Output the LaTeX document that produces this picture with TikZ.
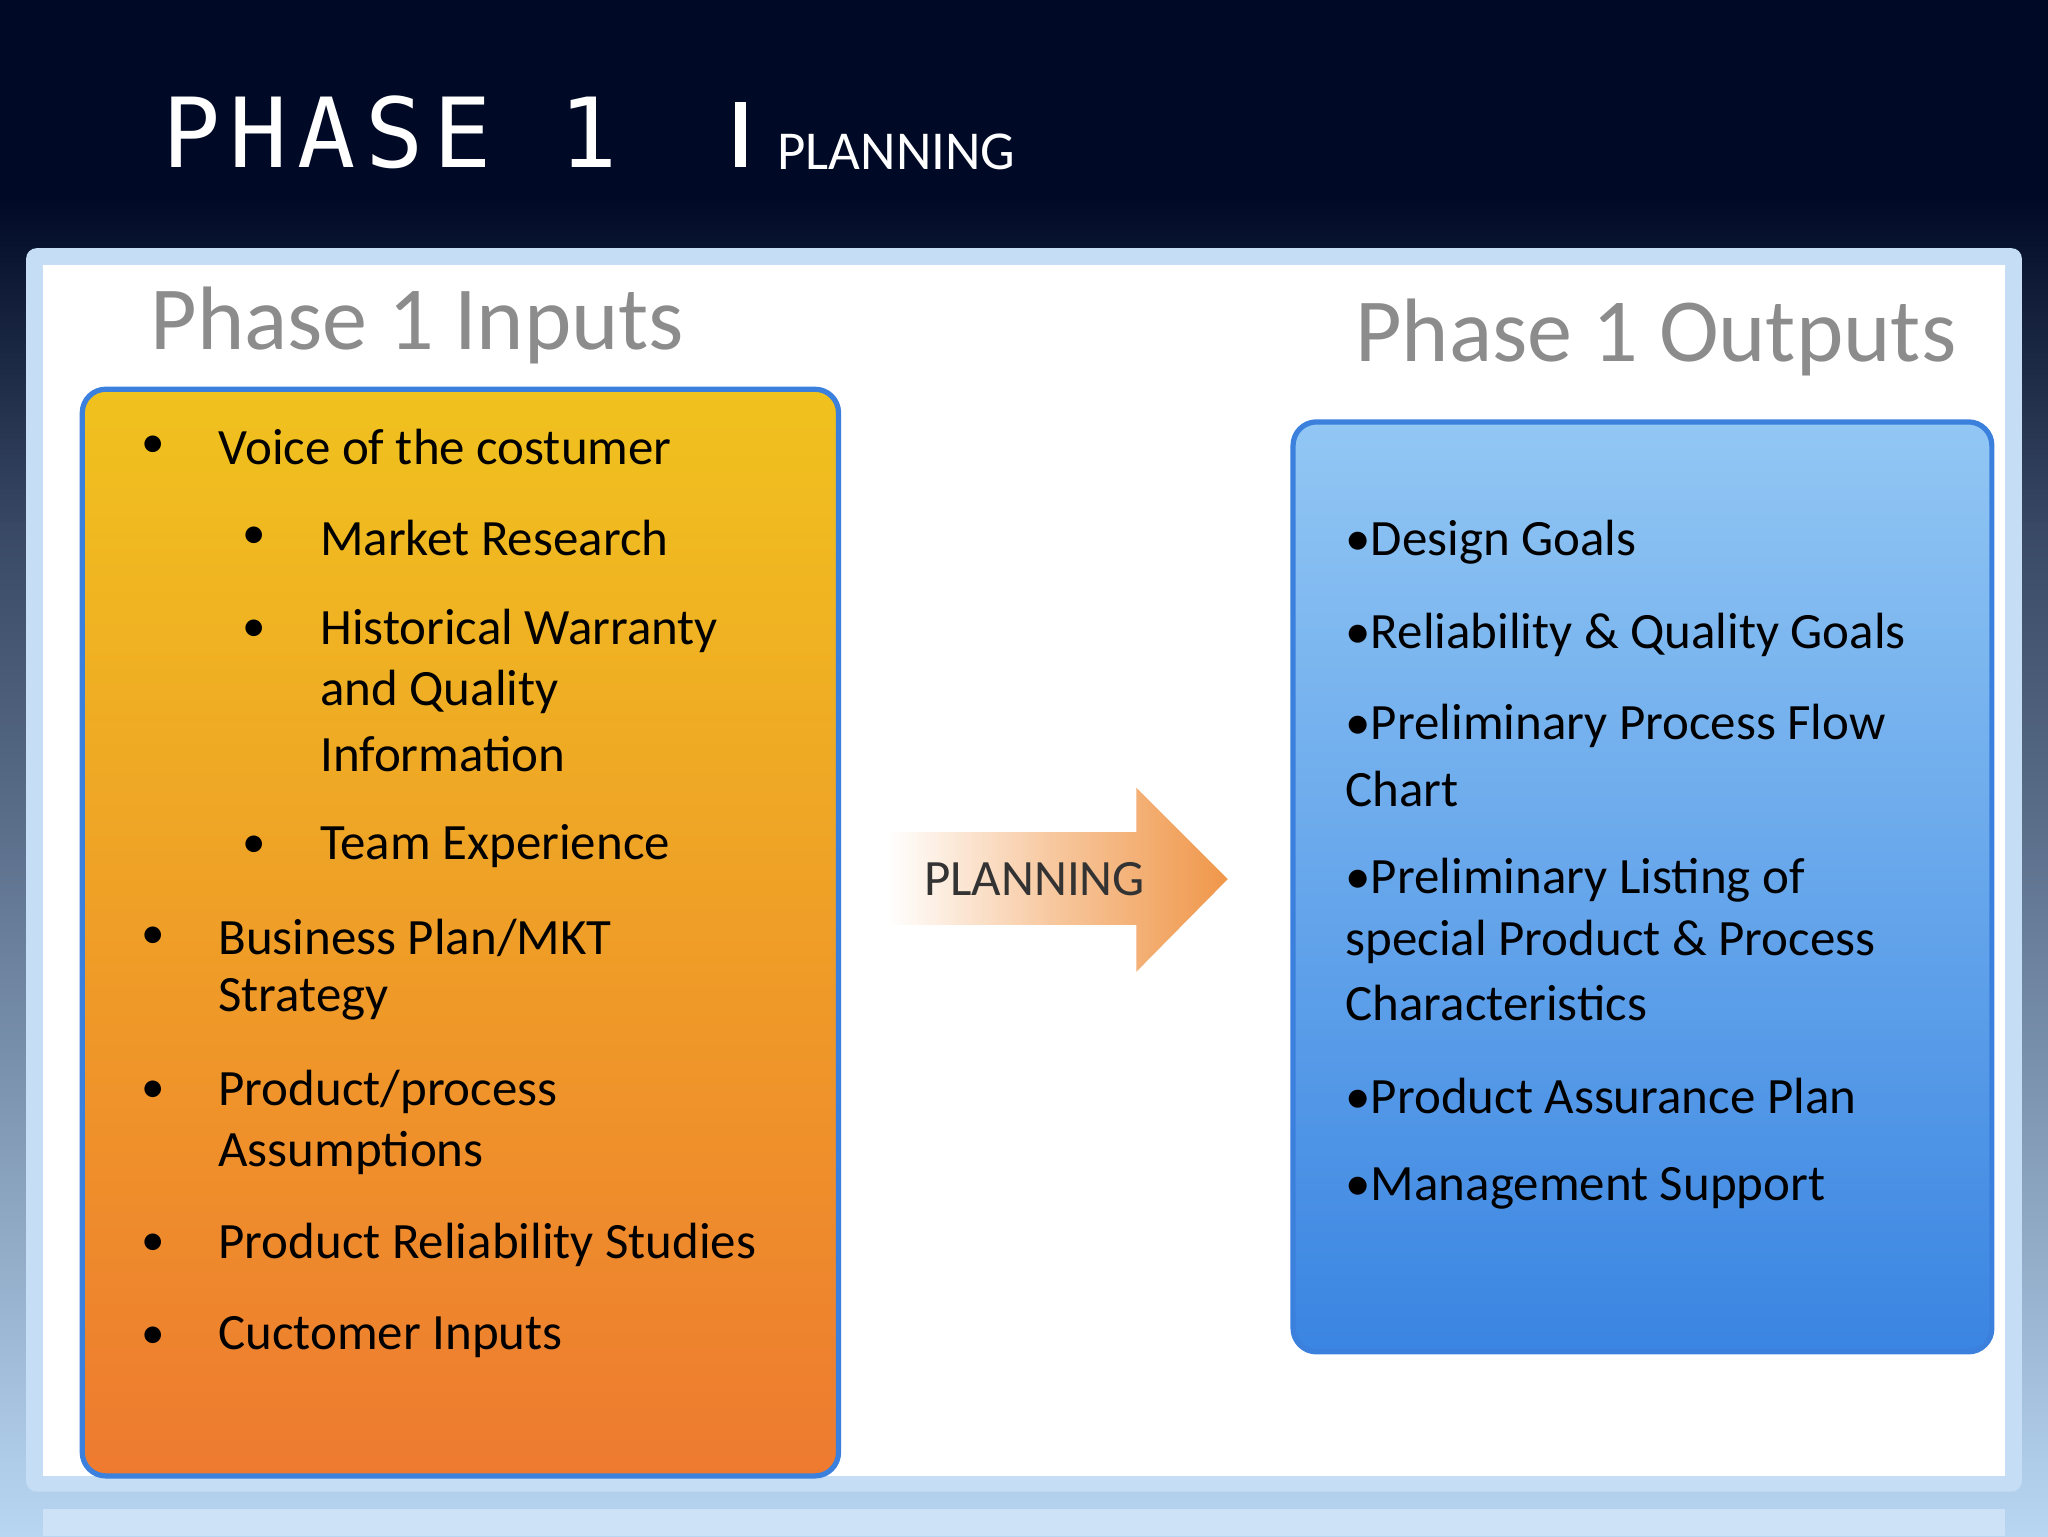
\documentclass[tikz,border=0pt]{standalone}
\usepackage{fontspec}
\setmainfont{Carlito}
\newfontfamily\titlefont[LetterSpace=10]{DejaVu Sans Mono}
\usetikzlibrary{shapes.arrows}
\definecolor{navy}{HTML}{000A26}
\definecolor{skyb}{HTML}{B8D6F2}
\definecolor{frameb}{HTML}{C5DDF5}
\definecolor{boxedge}{HTML}{3B80DD}
\definecolor{ytop}{HTML}{F0C21E}
\definecolor{ybot}{HTML}{EE7A30}
\definecolor{btop}{HTML}{92C7F4}
\definecolor{bbot}{HTML}{3A85E2}
\definecolor{graytxt}{HTML}{8C8C8C}
\definecolor{arrowo}{HTML}{F0974A}
\tikzset{
 itm/.style={anchor=west,inner sep=0pt,font=\fontsize{39}{44}\selectfont,text=black},
 blt/.style={anchor=center,inner sep=0pt,font=\fontsize{36}{40}\selectfont},
 head/.style={inner sep=0pt,font=\fontsize{69}{76}\selectfont,text=graytxt}
}
\begin{document}
\begin{tikzpicture}[x=1pt,y=-1pt]
\useasboundingbox (0,0) rectangle (1568,1176);
\shade[top color=navy,bottom color=skyb,middle color=navy!55!skyb] (0,0) rectangle (1568,1176);
\fill[navy] (0,0) rectangle (1568,190);
\shade[top color=navy,bottom color=navy!70!skyb] (0,150) rectangle (1568,400);
\fill[frameb,rounded corners=8] (20,190) rectangle (1548,1142);
\fill[white] (33,203) rectangle (1535,1130);
\fill[skyb!70!white] (33,1155) rectangle (1535,1176);
% title
\node[anchor=base west,inner sep=0pt,text=white,font=\titlefont\fontsize{74}{80}\selectfont] (t1) at (124,128) {PHASE 1};
\node[anchor=base west,inner sep=0pt,text=white,font=\fontsize{42}{46}\selectfont] (t2) at (595,130) {PLANNING};
\fill[white] (563,78) rectangle (571,128);
% headings
\node[head,anchor=west] (hin) at (115,249) {Phase 1 Inputs};
\node[head,anchor=east] (hout) at (1498,258) {Phase 1 Outputs};
% left box
\shade[rounded corners=18,top color=ytop,bottom color=ybot,draw=boxedge,line width=4pt] (63,298) rectangle (642,1130);
% right box
\shade[rounded corners=18,top color=btop,bottom color=bbot,draw=boxedge,line width=4pt] (990,323) rectangle (1525,1035);
% arrow
\shade[left color=white,right color=arrowo,middle color=arrowo!55!white] (680,637) -- (870,637) -- (870,603) -- (940,673) -- (870,744) -- (870,708) -- (680,708) -- cycle;
\node[anchor=center,inner sep=0pt,font=\fontsize{39}{44}\selectfont,text=black!80] (pl) at (792,673) {PLANNING};
% left items
\foreach \x/\y in {117/342,195/412,195/483,195/648,117/718,117/836,117/953,117/1024}{\node[blt] at (\x,\y) {•};}
\node[itm] (l1) at (167,342) {Voice of the costumer};
\node[itm] (l2) at (245,412) {Market Research};
\node[itm] (l3a) at (245,483) {Historical Warranty};
\node[itm] (l3b) at (245,530) {and Quality};
\node[itm] (l3c) at (245,577) {Information};
\node[itm] (l4) at (245,648) {Team Experience};
\node[itm] (l5a) at (167,718) {Business Plan/MKT};
\node[itm] (l5b) at (167,765) {Strategy};
\node[itm] (l6a) at (167,836) {Product/process};
\node[itm] (l6b) at (167,883) {Assumptions};
\node[itm] (l7) at (167,953) {Product Reliability Studies};
\node[itm] (l8) at (167,1024) {Cuctomer Inputs};
% right items
\node[itm] (r1) at (1030,415) {•Design Goals};
\node[itm] (r2) at (1030,486) {•Reliability \& Quality Goals};
\node[itm] (r3a) at (1030,556) {•Preliminary Process Flow};
\node[itm] (r3b) at (1030,604) {Chart};
\node[itm] (r4a) at (1030,674) {•Preliminary Listing of};
\node[itm] (r4b) at (1030,721) {special Product \& Process};
\node[itm] (r4c) at (1030,768) {Characteristics};
\node[itm] (r5) at (1030,839) {•Product Assurance Plan};
\node[itm] (r6) at (1030,910) {•Management Support};
\end{tikzpicture}
\end{document}
